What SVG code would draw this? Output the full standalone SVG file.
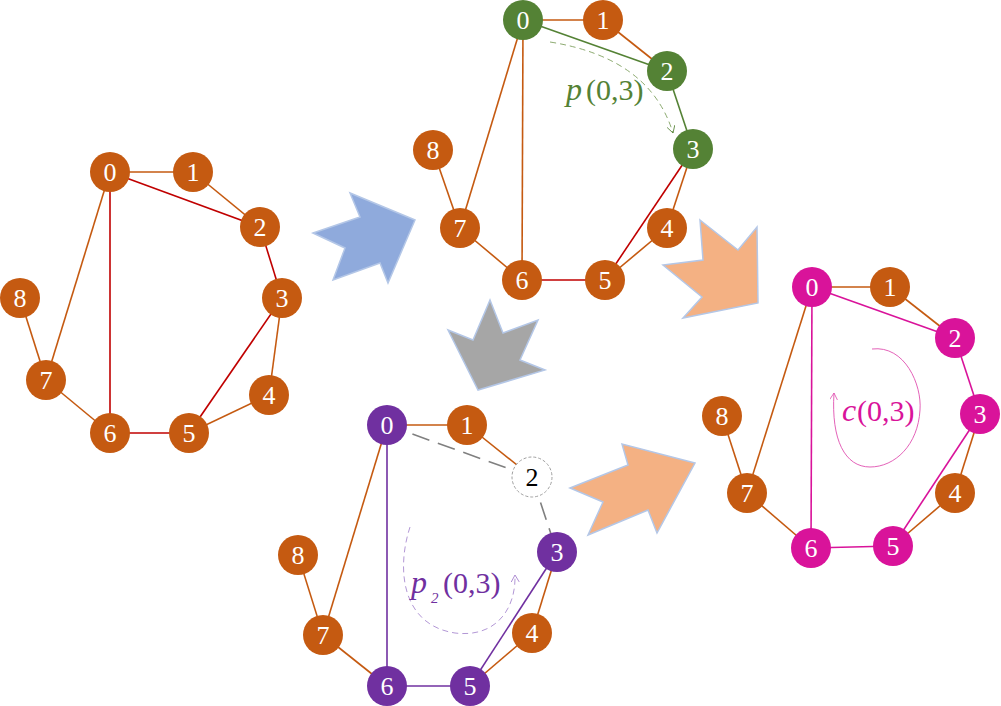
<svg xmlns="http://www.w3.org/2000/svg" width="1001" height="706" viewBox="0 0 1001 706" font-family="'Liberation Serif', 'Times New Roman', serif">
<style>
.e{stroke:#C55A11;stroke-width:1.6;fill:none}
.r{stroke:#C00000;stroke-width:1.6;fill:none}
.g{stroke:#548235;stroke-width:1.6;fill:none}
.pu{stroke:#7030A0;stroke-width:1.6;fill:none}
.m{stroke:#D9139A;stroke-width:1.6;fill:none}
.d{stroke:#808080;stroke-width:1.6;fill:none;stroke-dasharray:18 9}
.no{fill:#C55A11}
.ng{fill:#548235}
.np{fill:#7030A0}
.nm{fill:#D9139A}
.nw{fill:#fff;stroke:#A0A0A0;stroke-width:1;stroke-dasharray:3 2}
text{font-family:'Liberation Serif','Times New Roman',serif}
.t{fill:#fff;font-size:26px;text-anchor:middle}
.tb{fill:#000;font-size:26px;text-anchor:middle}
.arr{stroke:#B4C7E7;stroke-width:1.5;stroke-linejoin:miter}
</style>
<defs>
<filter id="soft" x="-10%" y="-10%" width="120%" height="120%"><feGaussianBlur stdDeviation="0.4"/></filter>
<marker id="mg" markerUnits="userSpaceOnUse" markerWidth="10" markerHeight="10" refX="7" refY="4" orient="auto"><path d="M0,0 L7,4 L0,8" fill="none" stroke="#548235" stroke-width="0.8"/></marker>
<marker id="mp" markerUnits="userSpaceOnUse" markerWidth="10" markerHeight="10" refX="7" refY="4" orient="auto"><path d="M0,0 L7,4 L0,8" fill="none" stroke="#9B72C8" stroke-width="0.8"/></marker>
<marker id="mm" markerUnits="userSpaceOnUse" markerWidth="10" markerHeight="10" refX="7" refY="4" orient="auto"><path d="M0,0 L7,4 L0,8" fill="none" stroke="#E050B0" stroke-width="0.8"/></marker>
</defs>

<!-- big arrows -->
<g id="arrows">
<polygon class="arr" filter="url(#soft)" fill="#8FAADC" stroke="#A9BFE6" points="313,233 360,217 350,193 415,220 388,283 380,263 333,280 345,248"/>
<polygon class="arr" filter="url(#soft)" fill="#A6A6A6" points="490,300 503,333 538,320 520,360 545,370 478,390 448,330 473,340"/>
<polygon class="arr" filter="url(#soft)" fill="#F4B183" points="700,220 738,250 757,227 758,303 683,318 702,297 663,265 703,260"/>
<polygon class="arr" filter="url(#soft)" fill="#F4B183" points="570,488 628,465 622,444 695,463 657,533 648,510 588,535 603,502"/>
</g>

<!-- Graph 1 -->
<g id="g1-edges">
<line class="e" x1="110" y1="172" x2="193" y2="172"/>
<line class="r" x1="110" y1="172" x2="260" y2="227"/>
<line class="e" x1="193" y1="172" x2="260" y2="227"/>
<line class="r" x1="260" y1="227" x2="282" y2="298"/>
<line class="r" x1="282" y1="298" x2="189" y2="433"/>
<line class="e" x1="282" y1="298" x2="269" y2="395"/>
<line class="e" x1="269" y1="395" x2="189" y2="433"/>
<line class="r" x1="189" y1="433" x2="110" y2="433"/>
<line class="r" x1="110" y1="433" x2="110" y2="172"/>
<line class="e" x1="110" y1="172" x2="46" y2="380"/>
<line class="e" x1="46" y1="380" x2="20" y2="298"/>
<line class="e" x1="46" y1="380" x2="110" y2="433"/>
</g>
<g id="g1-n0"><circle class="no" cx="110" cy="172" r="20"/><text class="t" x="110" y="181">0</text></g>
<g id="g1-n1"><circle class="no" cx="193" cy="172" r="20"/><text class="t" x="193" y="181">1</text></g>
<g id="g1-n2"><circle class="no" cx="260" cy="227" r="20"/><text class="t" x="260" y="236">2</text></g>
<g id="g1-n3"><circle class="no" cx="282" cy="298" r="20"/><text class="t" x="282" y="307">3</text></g>
<g id="g1-n4"><circle class="no" cx="269" cy="395" r="20"/><text class="t" x="269" y="404">4</text></g>
<g id="g1-n5"><circle class="no" cx="189" cy="433" r="20"/><text class="t" x="189" y="442">5</text></g>
<g id="g1-n6"><circle class="no" cx="110" cy="433" r="20"/><text class="t" x="110" y="442">6</text></g>
<g id="g1-n7"><circle class="no" cx="46" cy="380" r="20"/><text class="t" x="46" y="389">7</text></g>
<g id="g1-n8"><circle class="no" cx="20" cy="298" r="20"/><text class="t" x="20" y="307">8</text></g>

<!-- Graph 2 -->
<g id="g2-edges">
<line class="e" x1="523" y1="20" x2="603" y2="20"/>
<line class="g" x1="523" y1="20" x2="667" y2="71"/>
<line class="e" x1="603" y1="20" x2="667" y2="71"/>
<line class="g" x1="667" y1="71" x2="693" y2="149"/>
<line class="r" x1="693" y1="149" x2="605" y2="280"/>
<line class="e" x1="693" y1="149" x2="667" y2="228"/>
<line class="e" x1="667" y1="228" x2="605" y2="280"/>
<line class="r" x1="605" y1="280" x2="522" y2="280"/>
<line class="e" x1="522" y1="280" x2="523" y2="20"/>
<line class="e" x1="523" y1="20" x2="460" y2="228"/>
<line class="e" x1="460" y1="228" x2="433" y2="150"/>
<line class="e" x1="460" y1="228" x2="522" y2="280"/>
<path d="M550,42 Q650,58 673,133" fill="none" stroke="#7FA060" stroke-width="0.9" stroke-dasharray="6 4" marker-end="url(#mg)"/>
</g>
<g id="g2-label"><text x="566" y="100" font-size="32" fill="#548235" font-style="italic">p</text><text x="586" y="100" font-size="30" fill="#548235">(0,3)</text></g>
<g id="g2-n0"><circle class="ng" cx="523" cy="20" r="20"/><text class="t" x="523" y="29">0</text></g>
<g id="g2-n1"><circle class="no" cx="603" cy="20" r="20"/><text class="t" x="603" y="29">1</text></g>
<g id="g2-n2"><circle class="ng" cx="667" cy="71" r="20"/><text class="t" x="667" y="80">2</text></g>
<g id="g2-n3"><circle class="ng" cx="693" cy="149" r="20"/><text class="t" x="693" y="158">3</text></g>
<g id="g2-n4"><circle class="no" cx="667" cy="228" r="20"/><text class="t" x="667" y="237">4</text></g>
<g id="g2-n5"><circle class="no" cx="605" cy="280" r="20"/><text class="t" x="605" y="289">5</text></g>
<g id="g2-n6"><circle class="no" cx="522" cy="280" r="20"/><text class="t" x="522" y="289">6</text></g>
<g id="g2-n7"><circle class="no" cx="460" cy="228" r="20"/><text class="t" x="460" y="237">7</text></g>
<g id="g2-n8"><circle class="no" cx="433" cy="150" r="20"/><text class="t" x="433" y="159">8</text></g>

<!-- Graph 3 -->
<g id="g3-edges">
<line class="e" x1="387" y1="425" x2="467" y2="425"/>
<line class="d" x1="387" y1="425" x2="532" y2="477"/>
<line class="e" x1="467" y1="425" x2="532" y2="477"/>
<line class="d" x1="532" y1="477" x2="557" y2="552"/>
<line class="pu" x1="557" y1="552" x2="470" y2="686"/>
<line class="e" x1="557" y1="552" x2="532" y2="633"/>
<line class="e" x1="532" y1="633" x2="470" y2="686"/>
<line class="pu" x1="470" y1="686" x2="387" y2="686"/>
<line class="pu" x1="387" y1="686" x2="387" y2="425"/>
<line class="e" x1="387" y1="425" x2="323" y2="635"/>
<line class="e" x1="323" y1="635" x2="298" y2="555"/>
<line class="e" x1="323" y1="635" x2="387" y2="686"/>
<path d="M410,527 C396,570 402,625 455,633 C495,638 516,610 515,575" fill="none" stroke="#A98BD0" stroke-width="0.9" stroke-dasharray="6 4" marker-end="url(#mp)"/>
</g>
<g id="g3-label"><text x="411" y="593" font-size="32" fill="#7030A0" font-style="italic">p</text><text x="431" y="603" font-size="15" fill="#7030A0" font-style="italic">2</text><text x="443" y="593" font-size="30" fill="#7030A0">(0,3)</text></g>
<g id="g3-n0"><circle class="np" cx="387" cy="425" r="20"/><text class="t" x="387" y="434">0</text></g>
<g id="g3-n1"><circle class="no" cx="467" cy="425" r="20"/><text class="t" x="467" y="434">1</text></g>
<g id="g3-n2"><circle class="nw" cx="532" cy="477" r="20"/><text class="tb" x="532" y="486">2</text></g>
<g id="g3-n3"><circle class="np" cx="557" cy="552" r="20"/><text class="t" x="557" y="561">3</text></g>
<g id="g3-n4"><circle class="no" cx="532" cy="633" r="20"/><text class="t" x="532" y="642">4</text></g>
<g id="g3-n5"><circle class="np" cx="470" cy="686" r="20"/><text class="t" x="470" y="695">5</text></g>
<g id="g3-n6"><circle class="np" cx="387" cy="686" r="20"/><text class="t" x="387" y="695">6</text></g>
<g id="g3-n7"><circle class="no" cx="323" cy="635" r="20"/><text class="t" x="323" y="644">7</text></g>
<g id="g3-n8"><circle class="no" cx="298" cy="555" r="20"/><text class="t" x="298" y="564">8</text></g>

<!-- Graph 4 -->
<g id="g4-edges">
<line class="e" x1="812" y1="287" x2="890" y2="287"/>
<line class="m" x1="812" y1="287" x2="955" y2="338"/>
<line class="e" x1="890" y1="287" x2="955" y2="338"/>
<line class="m" x1="955" y1="338" x2="980" y2="414"/>
<line class="m" x1="980" y1="414" x2="893" y2="546"/>
<line class="e" x1="980" y1="414" x2="955" y2="493"/>
<line class="e" x1="955" y1="493" x2="893" y2="546"/>
<line class="m" x1="893" y1="546" x2="811" y2="548"/>
<line class="m" x1="811" y1="548" x2="812" y2="287"/>
<line class="e" x1="812" y1="287" x2="747" y2="493"/>
<line class="e" x1="747" y1="493" x2="722" y2="416"/>
<line class="e" x1="747" y1="493" x2="811" y2="548"/>
<path d="M872,349 C905,345 922,385 920,410 C918,445 895,467 870,467 C845,467 831,440 834,393" fill="none" stroke="#E050B0" stroke-width="0.9" marker-end="url(#mm)"/>
</g>
<g id="g4-label"><text x="842" y="421" font-size="32" fill="#D9139A" font-style="italic">c</text><text x="857" y="421" font-size="30" fill="#D9139A">(0,3)</text></g>
<g id="g4-n0"><circle class="nm" cx="812" cy="287" r="20"/><text class="t" x="812" y="296">0</text></g>
<g id="g4-n1"><circle class="no" cx="890" cy="287" r="20"/><text class="t" x="890" y="296">1</text></g>
<g id="g4-n2"><circle class="nm" cx="955" cy="338" r="20"/><text class="t" x="955" y="347">2</text></g>
<g id="g4-n3"><circle class="nm" cx="980" cy="414" r="20"/><text class="t" x="980" y="423">3</text></g>
<g id="g4-n4"><circle class="no" cx="955" cy="493" r="20"/><text class="t" x="955" y="502">4</text></g>
<g id="g4-n5"><circle class="nm" cx="893" cy="546" r="20"/><text class="t" x="893" y="555">5</text></g>
<g id="g4-n6"><circle class="nm" cx="811" cy="548" r="20"/><text class="t" x="811" y="557">6</text></g>
<g id="g4-n7"><circle class="no" cx="747" cy="493" r="20"/><text class="t" x="747" y="502">7</text></g>
<g id="g4-n8"><circle class="no" cx="722" cy="416" r="20"/><text class="t" x="722" y="425">8</text></g>
</svg>
